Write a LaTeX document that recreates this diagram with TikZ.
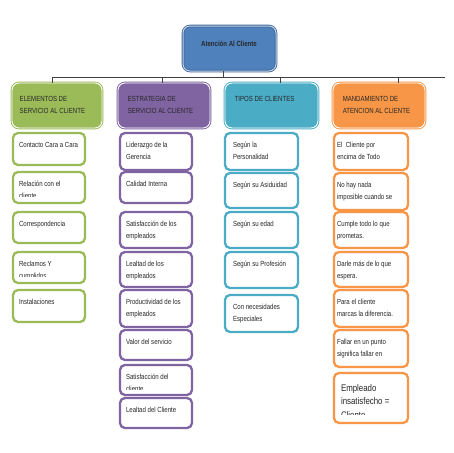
\documentclass[tikz,border=0pt]{standalone}
\usepackage{fontspec}
\setmainfont{Liberation Sans}
\newfontfamily\nar[FakeStretch=0.82]{Liberation Sans}
\usetikzlibrary{calc}
\definecolor{cgreen}{HTML}{9BBB59}
\definecolor{cpurple}{HTML}{8064A2}
\definecolor{cteal}{HTML}{4BACC6}
\definecolor{corange}{HTML}{F79646}
\definecolor{cblue}{HTML}{4F81BD}
\definecolor{cline}{HTML}{404040}
\definecolor{ctext}{HTML}{262626}
\tikzset{
  hdr/.style={draw=#1, fill=#1, line width=0.9pt, double=white, double distance=0.9pt, rounded corners=7pt, inner sep=0pt},
  kid/.style={draw=#1, fill=white, line width=2.3pt, rounded corners=5pt, inner sep=0pt},
  txt/.style={font=\nar\fontsize{7.4}{12}\selectfont, text=ctext, align=left, inner sep=0pt},
  bigtxt/.style={font=\nar\fontsize{9.6}{13.5}\selectfont, text=ctext, align=left, inner sep=0pt},
  conn/.style={draw=cline, line width=0.6pt},
}
% #1 name, #2 style, #3 x1, #4 y1, #5 x2, #6 y2
\newcommand\mkbox[6]{%
  \node[#2, minimum width={#5-#3}, minimum height={#6-#4}] (#1) at ({(#3+#5)/2},{(#4+#6)/2}) {};}
% #1 name, #2 x offset, #3 text ; first baseline 15 below box top
\newcommand\mktxt[3]{%
  \node[txt, anchor=north west] (#1t) at ($(#1.north west)+(#2,8)$) {\rule{0pt}{7pt}#3};}
\begin{document}
\begin{tikzpicture}[x=1pt,y=-1pt]
\fill[white] (0,0) rectangle (453,453);
\useasboundingbox (0,0) rectangle (453,453);

% root
\node[draw=cblue!80!black, fill=cblue, line width=0.8pt, double=cblue!35!white, double distance=1pt, rounded corners=7pt, minimum width=93, minimum height=45, inner sep=0pt] (root) at (229.5,48.5) {};
\node[font=\nar\bfseries\fontsize{7.4}{12}\selectfont, text=ctext, inner sep=0pt] (roott) at (229,43.5) {Atención Al Cliente};

% headers
\mkbox{hg}{hdr=cgreen}{12}{83}{102}{128}
\mkbox{hp}{hdr=cpurple}{118}{83}{210}{128}
\mkbox{ht}{hdr=cteal}{225}{83}{318}{128}
\mkbox{ho}{hdr=corange}{333}{83}{425}{128}
\node[txt, anchor=north west] (hgt) at ($(hg.north west)+(8,13.5)$) {ELEMENTOS DE\\SERVICIO AL CLIENTE};
\node[txt, anchor=north west] (hpt) at ($(hp.north west)+(10,13.5)$) {ESTRATEGIA DE\\SERVICIO AL CLIENTE};
\node[txt, anchor=north west] (htt) at ($(ht.north west)+(10,13.5)$) {TIPOS DE CLIENTES};
\node[txt, anchor=north west] (hot) at ($(ho.north west)+(10,13.5)$) {MANDAMIENTO DE\\ATENCION AL CLIENTE};

% connectors
\coordinate (stem) at (223,77);
\coordinate (lend) at (52,77);
\coordinate (rend) at (445,77);
\coordinate (d1) at (52,77);
\coordinate (d2) at (162,77);
\coordinate (d3) at (280,77);
\coordinate (d4) at (398,77);
\draw[conn] (root.south -| stem) -- (stem);
\draw[conn] (lend) -- (rend);
\draw[conn] (d1) -- (hg.north -| d1);
\draw[conn] (d2) -- (hp.north -| d2);
\draw[conn] (d3) -- (ht.north -| d3);
\draw[conn] (d4) -- (ho.north -| d4);

% green column
\mkbox{g1}{kid=cgreen}{13}{133}{85}{165}
\mkbox{g2}{kid=cgreen}{13}{172}{85}{203}
\mkbox{g3}{kid=cgreen}{13}{212}{85}{243}
\mkbox{g4}{kid=cgreen}{13}{252}{85}{283}
\mkbox{g5}{kid=cgreen}{13}{290}{85}{322}
\mktxt{g1}{7}{Contacto Cara a Cara}
\begin{scope}\clip (15,174) rectangle (83,196.8);\mktxt{g2}{7}{Relación con el\\cliente}\end{scope}
\mktxt{g3}{7}{Correspondencia}
\begin{scope}\clip (15,254) rectangle (83,276.8);\mktxt{g4}{7}{Reclamos Y\\cumplidos}\end{scope}
\mktxt{g5}{7}{Instalaciones}

% purple column
\mkbox{p1}{kid=cpurple}{120}{133}{192}{170}
\mkbox{p2}{kid=cpurple}{120}{172}{192}{203}
\mkbox{p3}{kid=cpurple}{120}{212}{192}{248}
\mkbox{p4}{kid=cpurple}{120}{252}{192}{287}
\mkbox{p5}{kid=cpurple}{120}{290}{192}{327}
\mkbox{p6}{kid=cpurple}{120}{330}{192}{360}
\mkbox{p7}{kid=cpurple}{120}{365}{192}{395}
\mkbox{p8}{kid=cpurple}{120}{398}{192}{428}
\mktxt{p1}{7}{Liderazgo de la\\Gerencia}
\mktxt{p2}{7}{Calidad Interna}
\mktxt{p3}{7}{Satisfacción de los\\empleados}
\mktxt{p4}{7}{Lealtad de los\\empleados}
\mktxt{p5}{7}{Productividad de los\\empleados}
\mktxt{p6}{7}{Valor del servicio}
\begin{scope}\clip (122,367) rectangle (190,389.6);\mktxt{p7}{7}{Satisfacción del\\cliente}\end{scope}
\mktxt{p8}{7}{Lealtad del Cliente}

% teal column
\mkbox{t1}{kid=cteal}{225}{133}{298}{170}
\mkbox{t2}{kid=cteal}{225}{173}{298}{208}
\mkbox{t3}{kid=cteal}{225}{212}{298}{248}
\mkbox{t4}{kid=cteal}{225}{252}{298}{288}
\mkbox{t5}{kid=cteal}{225}{295}{298}{332}
\mktxt{t1}{9}{Según la\\Personalidad}
\mktxt{t2}{9}{Según su Asiduidad}
\mktxt{t3}{9}{Según su edad}
\mktxt{t4}{9}{Según su Profesión}
\mktxt{t5}{9}{Con necesidades\\Especiales}

% orange column
\mkbox{o1}{kid=corange}{334}{133}{408}{170}
\mkbox{o2}{kid=corange}{334}{173}{408}{210}
\mkbox{o3}{kid=corange}{334}{212}{408}{248}
\mkbox{o4}{kid=corange}{334}{252}{408}{287}
\mkbox{o5}{kid=corange}{334}{290}{408}{327}
\mkbox{o6}{kid=corange}{334}{330}{408}{367}
\mkbox{o7}{kid=corange}{334}{373}{408}{423}
\mktxt{o1}{4}{El\ \ Cliente por\\encima de Todo}
\mktxt{o2}{4}{No hay nada\\imposible cuando se}
\mktxt{o3}{4}{Cumple todo lo que\\prometas.}
\mktxt{o4}{4}{Darle más de lo que\\espera.}
\mktxt{o5}{4}{Para el cliente\\marcas la diferencia.}
\mktxt{o6}{4}{Fallar en un punto\\significa fallar en}
\begin{scope}\clip (336,375) rectangle (406,414.5);
\node[bigtxt, anchor=north west] (o7t) at ($(o7.north west)+(8,12.2)$) {Empleado\\insatisfecho =\\Cliente};
\end{scope}
\end{tikzpicture}
\end{document}
